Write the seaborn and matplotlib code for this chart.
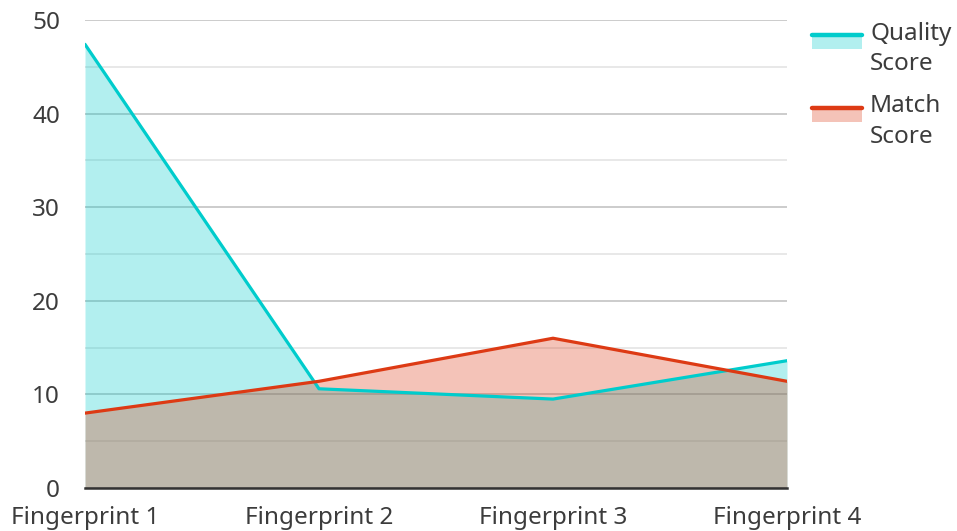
import matplotlib
matplotlib.use("Agg")
import matplotlib.pyplot as plt
import matplotlib.patches as mpatches
import matplotlib.lines as mlines
from matplotlib.legend_handler import HandlerBase
from matplotlib.ticker import MultipleLocator
import pandas as pd
import seaborn as sns

categories = ["Fingerprint 1", "Fingerprint 2", "Fingerprint 3", "Fingerprint 4"]
quality_score = [47.4, 10.6, 9.5, 13.6]
match_score = [8.0, 11.4, 16.0, 11.4]
series_names = ["Quality\nScore", "Match\nScore"]
colors = ["#00CCCC", "#DD3A14"]

df = pd.DataFrame({
    "x": list(range(len(categories))) * 2,
    "value": quality_score + match_score,
    "series": [series_names[0]] * 4 + [series_names[1]] * 4,
})

sns.set_style("white")
plt.rcParams["font.family"] = ["Noto Sans", "DejaVu Sans"]
text_color = "#3c3c3c"
fs = 17.5


class LineOverPatch(HandlerBase):
    # line drawn at the top edge of a translucent patch, level with the first text line
    def create_artists(self, legend, orig, xdescent, ydescent, width, height, fontsize, trans):
        color = orig.get_color()
        ytop = -ydescent + height / 2 + 10
        rect = mpatches.Rectangle((-xdescent, ytop - 10), width, 11.5,
                                  facecolor=color, alpha=0.3, edgecolor="none", transform=trans)
        line = mlines.Line2D([-xdescent, -xdescent + width], [ytop, ytop],
                             color=color, lw=3.2, transform=trans)
        return [rect, line]


fig = plt.figure(figsize=(9.57, 5.31), dpi=100)
ax = fig.add_axes([85 / 957, 43 / 531, 702 / 957, 468 / 531])

sns.lineplot(data=df, x="x", y="value", hue="series", palette=colors,
             linewidth=2.3, ax=ax, legend=False, zorder=3)
for name, color in zip(series_names, colors):
    sub = df[df["series"] == name]
    ax.fill_between(sub["x"], 0, sub["value"], color=color, alpha=0.3, lw=0, zorder=2)

ax.set_xlim(0, len(categories) - 1)
ax.set_ylim(0, 50)
ax.set_xticks(range(len(categories)))
ax.set_xticklabels(categories)
ax.yaxis.set_major_locator(MultipleLocator(10))
ax.yaxis.set_minor_locator(MultipleLocator(5))
ax.set_axisbelow(True)
ax.grid(which="major", axis="y", color="#c4c4c4", lw=1.2, zorder=0)
ax.grid(which="minor", axis="y", color="#e4e4e4", lw=1.2, zorder=0)
ax.tick_params(axis="both", which="both", length=0, labelsize=fs, colors=text_color)
ax.tick_params(axis="y", pad=18)
ax.tick_params(axis="x", pad=13)
for s in ["top", "right", "left"]:
    ax.spines[s].set_visible(False)
ax.spines["bottom"].set_color("#333333")
ax.spines["bottom"].set_linewidth(1.8)
ax.spines["bottom"].set_zorder(4)
ax.set_xlabel("")
ax.set_ylabel("")

handles = [mlines.Line2D([], [], color=c) for c in colors]
leg = fig.legend(handles, series_names, loc="upper left", bbox_to_anchor=(802 / 957, 1 - 12 / 531),
                 frameon=False, fontsize=fs, handler_map={mlines.Line2D: LineOverPatch()},
                 handlelength=2.05, handleheight=0.7, handletextpad=0.35, labelspacing=0.75,
                 labelcolor=text_color, borderaxespad=0)
for t in leg.get_texts():
    t.set_linespacing(1.35)

fig.savefig("out.png", dpi=100)
